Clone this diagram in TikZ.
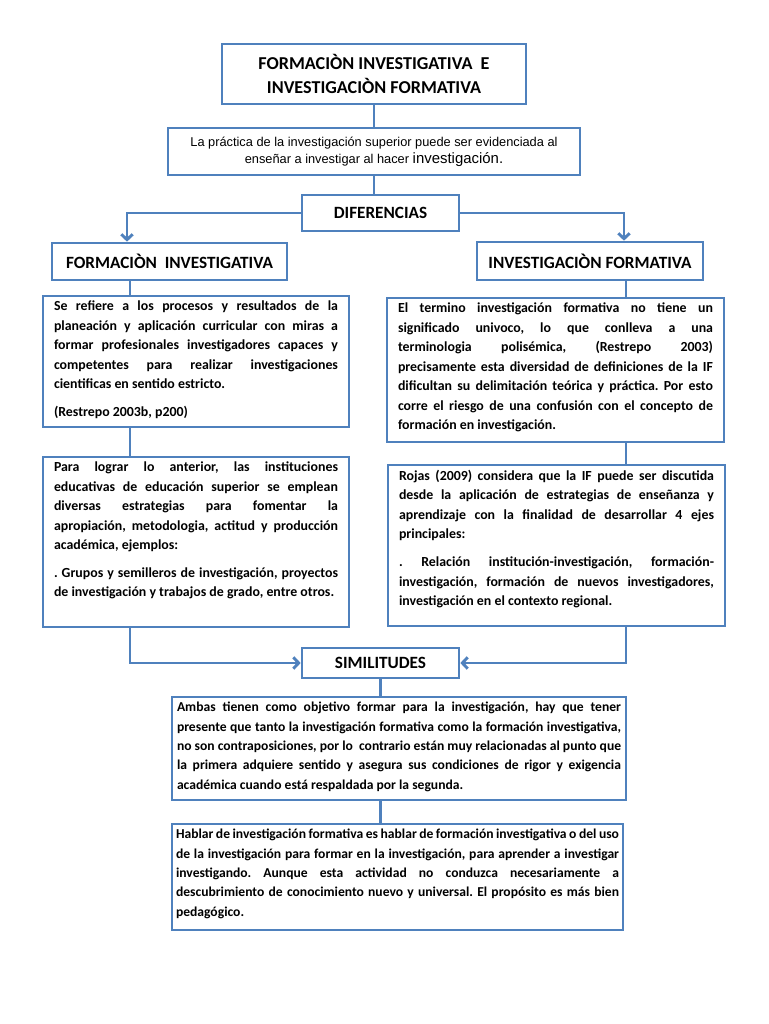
\documentclass[tikz,border=0pt]{standalone}
\usepackage{fontspec}
\setmainfont{Carlito}
\newfontfamily\arialfont{Liberation Sans}
\usetikzlibrary{arrows.meta,positioning,shadows}
\definecolor{ofblue}{HTML}{4F81BD}
\newdimen\pxu \pxu=0.75pt
\frenchspacing
% top-aligned justified text block: width, height (in px), text
\newcommand{\boxtext}[3]{\parbox[c][#2\pxu][t]{#1\pxu}{\sloppy\setlength{\parskip}{6.3pt}#3}}

\begin{document}
\begin{tikzpicture}[x=0.75pt, y=0.75pt,
  box/.style={draw=ofblue, line width=2pt, fill=white, inner sep=0pt,
    drop shadow={opacity=0.25, shadow xshift=0.9pt, shadow yshift=-0.9pt}},
  headbox/.style={box, font=\fontsize{12.9}{15}\selectfont\bfseries},
  txtbox/.style={box, inner xsep=11\pxu, inner ysep=5\pxu,
    font=\fontsize{10.4}{14.6}\selectfont\bfseries},
  link/.style={ofblue, line width=2.2pt},
  linkarrow/.style={link, -{Straight Barb[length=4pt, width=8.5pt, line width=2.2pt]}}]
  \useasboundingbox[fill=white] (0,0) rectangle (768,1024);
  % ── Title and intro ──
  \node[box, minimum width=304\pxu, minimum height=60\pxu, align=center,
    font=\fontsize{13.6}{18}\selectfont\bfseries] (tit) at (374,950)
    {FORMACIÒN INVESTIGATIVA~~E\\INVESTIGACIÒN FORMATIVA};
  \node[box, minimum width=412\pxu, minimum height=47\pxu, align=center,
    font=\arialfont\fontsize{9.6}{12.75}\selectfont] (sub) at (374,872.5)
    {La práctica de la investigación superior puede ser evidenciada al\\
     enseñar a investigar al hacer {\fontsize{11.2}{12.75}\selectfont investigación.}};
  \node[headbox, minimum width=157\pxu, minimum height=36\pxu] (dif) at (380.5,811) {DIFERENCIAS};
  %
  % ── Left column ──
  \node[headbox, minimum width=235\pxu, minimum height=37\pxu] (fi) at (169.5,762.5)
    {FORMACIÒN~~INVESTIGATIVA};
  \node[txtbox] (fi1) at (196,662.5) {\boxtext{284}{121}{%
    Se refiere a los procesos y resultados de la\linebreak
    planeación y aplicación curricular con miras a\linebreak
    formar profesionales investigadores capaces y\linebreak
    competentes para realizar investigaciones\linebreak
    cientificas en sentido estricto.\par
    (Restrepo 2003b, p200)}};
  \node[txtbox] (fi2) at (196,482) {\boxtext{284}{160}{%
    Para lograr lo anterior, las instituciones\linebreak
    educativas de educación superior se emplean\linebreak
    diversas estrategias para fomentar la\linebreak
    apropiación, metodologia, actitud y producción\linebreak
    académica, ejemplos:\par
    . Grupos y semilleros de investigación, proyectos\linebreak
    de investigación y trabajos de grado, entre otros.}};
  %
  % ── Right column ──
  \node[headbox, minimum width=226\pxu, minimum height=38\pxu] (inf) at (590,763)
    {INVESTIGACIÒN FORMATIVA};
  \node[txtbox] (inf1) at (555.5,654) {\boxtext{315}{134}{%
    El termino investigación formativa no tiene un\linebreak
    significado univoco, lo que conlleva a una\linebreak
    terminologia polisémica, (Restrepo 2003)\linebreak
    precisamente esta diversidad de definiciones de la IF\linebreak
    dificultan su delimitación teórica y práctica. Por esto\linebreak
    corre el riesgo de una confusión con el concepto de\linebreak
    formación en investigación.}};
  \node[txtbox] (inf2) at (556.5,478.5) {\boxtext{315}{151}{%
    Rojas (2009) considera que la IF puede ser discutida\linebreak
    desde la aplicación de estrategias de enseñanza y\linebreak
    aprendizaje con la finalidad de desarrollar 4 ejes\linebreak
    principales:\par
    . Relación institución-investigación, formación-\linebreak
    investigación, formación de nuevos investigadores,\linebreak
    investigación en el contexto regional.}};
  %
  % ── Similarities ──
  \node[headbox, minimum width=157\pxu, minimum height=30\pxu] (sim) at (380.5,361) {SIMILITUDES};
  \node[txtbox, inner xsep=5\pxu, font=\fontsize{10.2}{14.6}\selectfont\bfseries] (am) at (399,275.5)
    {\boxtext{444}{93}{%
    Ambas tienen como objetivo formar para la investigación, hay que tener\linebreak
    presente que tanto la investigación formativa como la formación investigativa,\linebreak
    no son contraposiciones, por lo~ contrario están muy relacionadas al punto que\linebreak
    la primera adquiere sentido y asegura sus condiciones de rigor y exigencia\linebreak
    académica cuando está respaldada por la segunda.}};
  \node[txtbox, inner xsep=4\pxu, font=\fontsize{10.2}{14.6}\selectfont\bfseries] (ha) at (397.5,147)
    {\boxtext{443}{96}{%
    Hablar de investigación formativa es hablar de formación investigativa o del uso\linebreak
    de la investigación para formar en la investigación, para aprender a investigar\linebreak
    investigando. Aunque esta actividad no conduzca necesariamente a\linebreak
    descubrimiento de conocimiento nuevo y universal. El propósito es más bien\linebreak
    pedagógico.}};
  %
  % ── Connectors ──
  \coordinate (cl) at (130,0);
  \coordinate (cr) at (626,0);
  \coordinate (al) at (127,0);
  \coordinate (ar) at (624,0);
  \draw[link] (tit) -- (sub);
  \draw[link] (sub.south) -- (sub.south |- dif.north);
  \draw[linkarrow] (dif.west) -| (al |- fi.north);
  \draw[linkarrow] (dif.east) -| (ar |- inf.north);
  \draw[link] (cl |- fi.south) -- (cl |- fi1.north);
  \draw[link] (cl |- fi1.south) -- (cl |- fi2.north);
  \draw[link] (cr |- inf.south) -- (cr |- inf1.north);
  \draw[link] (cr |- inf1.south) -- (cr |- inf2.north);
  \draw[linkarrow] (cl |- fi2.south) |- (sim.west);
  \draw[linkarrow] (cr |- inf2.south) |- (sim.east);
  \draw[link] (sim.south) -- (sim.south |- am.north);
  \draw[link] (sim.south |- am.south) -- (sim.south |- ha.north);
\end{tikzpicture}
\end{document}
